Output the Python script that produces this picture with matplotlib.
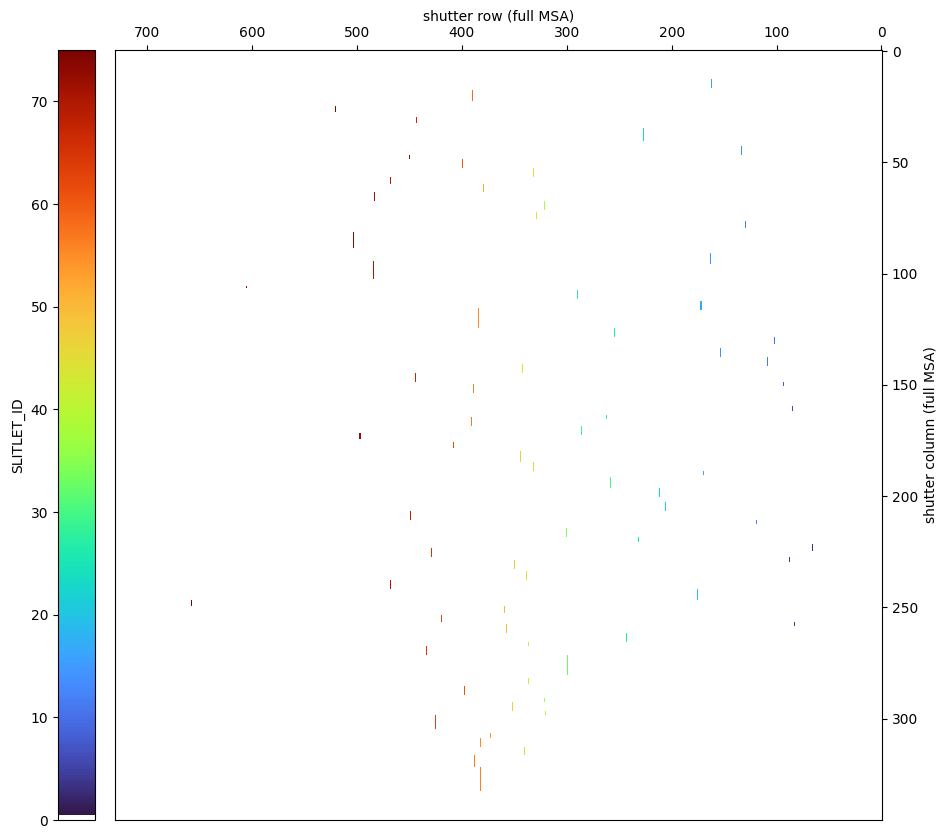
import numpy as np
import matplotlib
matplotlib.use("Agg")
import matplotlib.pyplot as plt
from matplotlib.colors import ListedColormap

# slitlets: shutter row, first/last shutter column, slitlet id
rows = [162, 390, 520, 443, 227, 133, 450, 399, 332, 468, 379, 483, 321, 329, 130,
        503, 163, 484, 605, 290, 172, 384, 254, 102, 153, 109, 342, 444, 93, 389,
        85, 262, 391, 286, 497, 408, 344, 332, 170, 258, 212, 206, 449, 119, 300,
        232, 66, 429, 88, 350, 338, 468, 175, 658, 359, 419, 83, 357, 243, 336,
        434, 299, 299, 336, 397, 321, 352, 320, 425, 373, 382, 340, 388, 382]
col_start = [13, 18, 25, 30, 35, 43, 47, 49, 53, 57, 60, 64, 68, 73, 77,
             82, 91, 95, 106, 108, 113, 116, 125, 129, 134, 138, 141, 145, 149, 150,
             160, 164, 165, 169, 172, 176, 180, 185, 189, 192, 197, 203, 207, 211, 215,
             219, 222, 224, 228, 229, 234, 238, 242, 247, 250, 254, 257, 258, 262, 266,
             268, 272, 279, 282, 286, 291, 293, 297, 299, 307, 309, 313, 317, 322]
col_end = [16, 22, 27, 32, 40, 46, 48, 52, 56, 59, 63, 67, 71, 75, 79,
           88, 95, 102, 106, 111, 116, 124, 128, 131, 137, 141, 144, 148, 150, 153,
           161, 165, 168, 172, 174, 178, 184, 188, 190, 196, 200, 206, 210, 212, 218,
           220, 224, 227, 229, 232, 237, 241, 246, 249, 252, 256, 258, 261, 265, 267,
           271, 278, 280, 284, 289, 292, 296, 298, 304, 308, 312, 316, 321, 332]
slit_id = [16, 58, 74, 67, 23, 13, 72, 60, 40, 69, 52, 71, 39, 41, 12,
           73, 15, 70, 74, 28, 17, 55, 27, 10, 14, 11, 44, 67, 8, 56,
           6, 28, 57, 29, 72, 62, 47, 45, 17, 30, 23, 22, 68, 12, 34,
           24, 3, 65, 4, 48, 44, 70, 20, 75, 50, 63, 5, 49, 26, 43,
           64, 33, 32, 42, 61, 37, 47, 38, 63, 54, 55, 46, 56, 56]

n_row, n_col = 731, 346
img = np.zeros((n_col, n_row))
for r, c0, c1, s in zip(rows, col_start, col_end, slit_id):
    img[c0:c1 + 1, r] = s

# turbo with the bottom half-unit (empty shutters) in white
colors = plt.get_cmap("turbo")(np.linspace(0, 1, 750))
colors[:5] = [1, 1, 1, 1]
cmap = ListedColormap(colors)

fig = plt.figure(figsize=(9.48, 8.38), dpi=100)
ax = fig.add_axes([115 / 948, 18 / 838, 767 / 948, 770 / 838])
cax = fig.add_axes([58 / 948, 18 / 838, 37 / 948, 770 / 838])

im = ax.imshow(img, cmap=cmap, vmin=0, vmax=75, aspect="auto", interpolation="nearest",
               extent=[-0.5, n_row - 0.5, n_col - 0.5, -0.5])
ax.set_xlim(n_row - 0.5, -0.5)
ax.set_ylim(n_col - 0.5, -0.5)
ax.xaxis.tick_top()
ax.xaxis.set_label_position("top")
ax.yaxis.tick_right()
ax.yaxis.set_label_position("right")
ax.set_xlabel("shutter row (full MSA)")
ax.set_ylabel("shutter column (full MSA)")

cb = fig.colorbar(im, cax=cax)
cax.yaxis.tick_left()
cax.yaxis.set_label_position("left")
cb.set_label("SLITLET_ID")

fig.savefig("out.png", dpi=100)
